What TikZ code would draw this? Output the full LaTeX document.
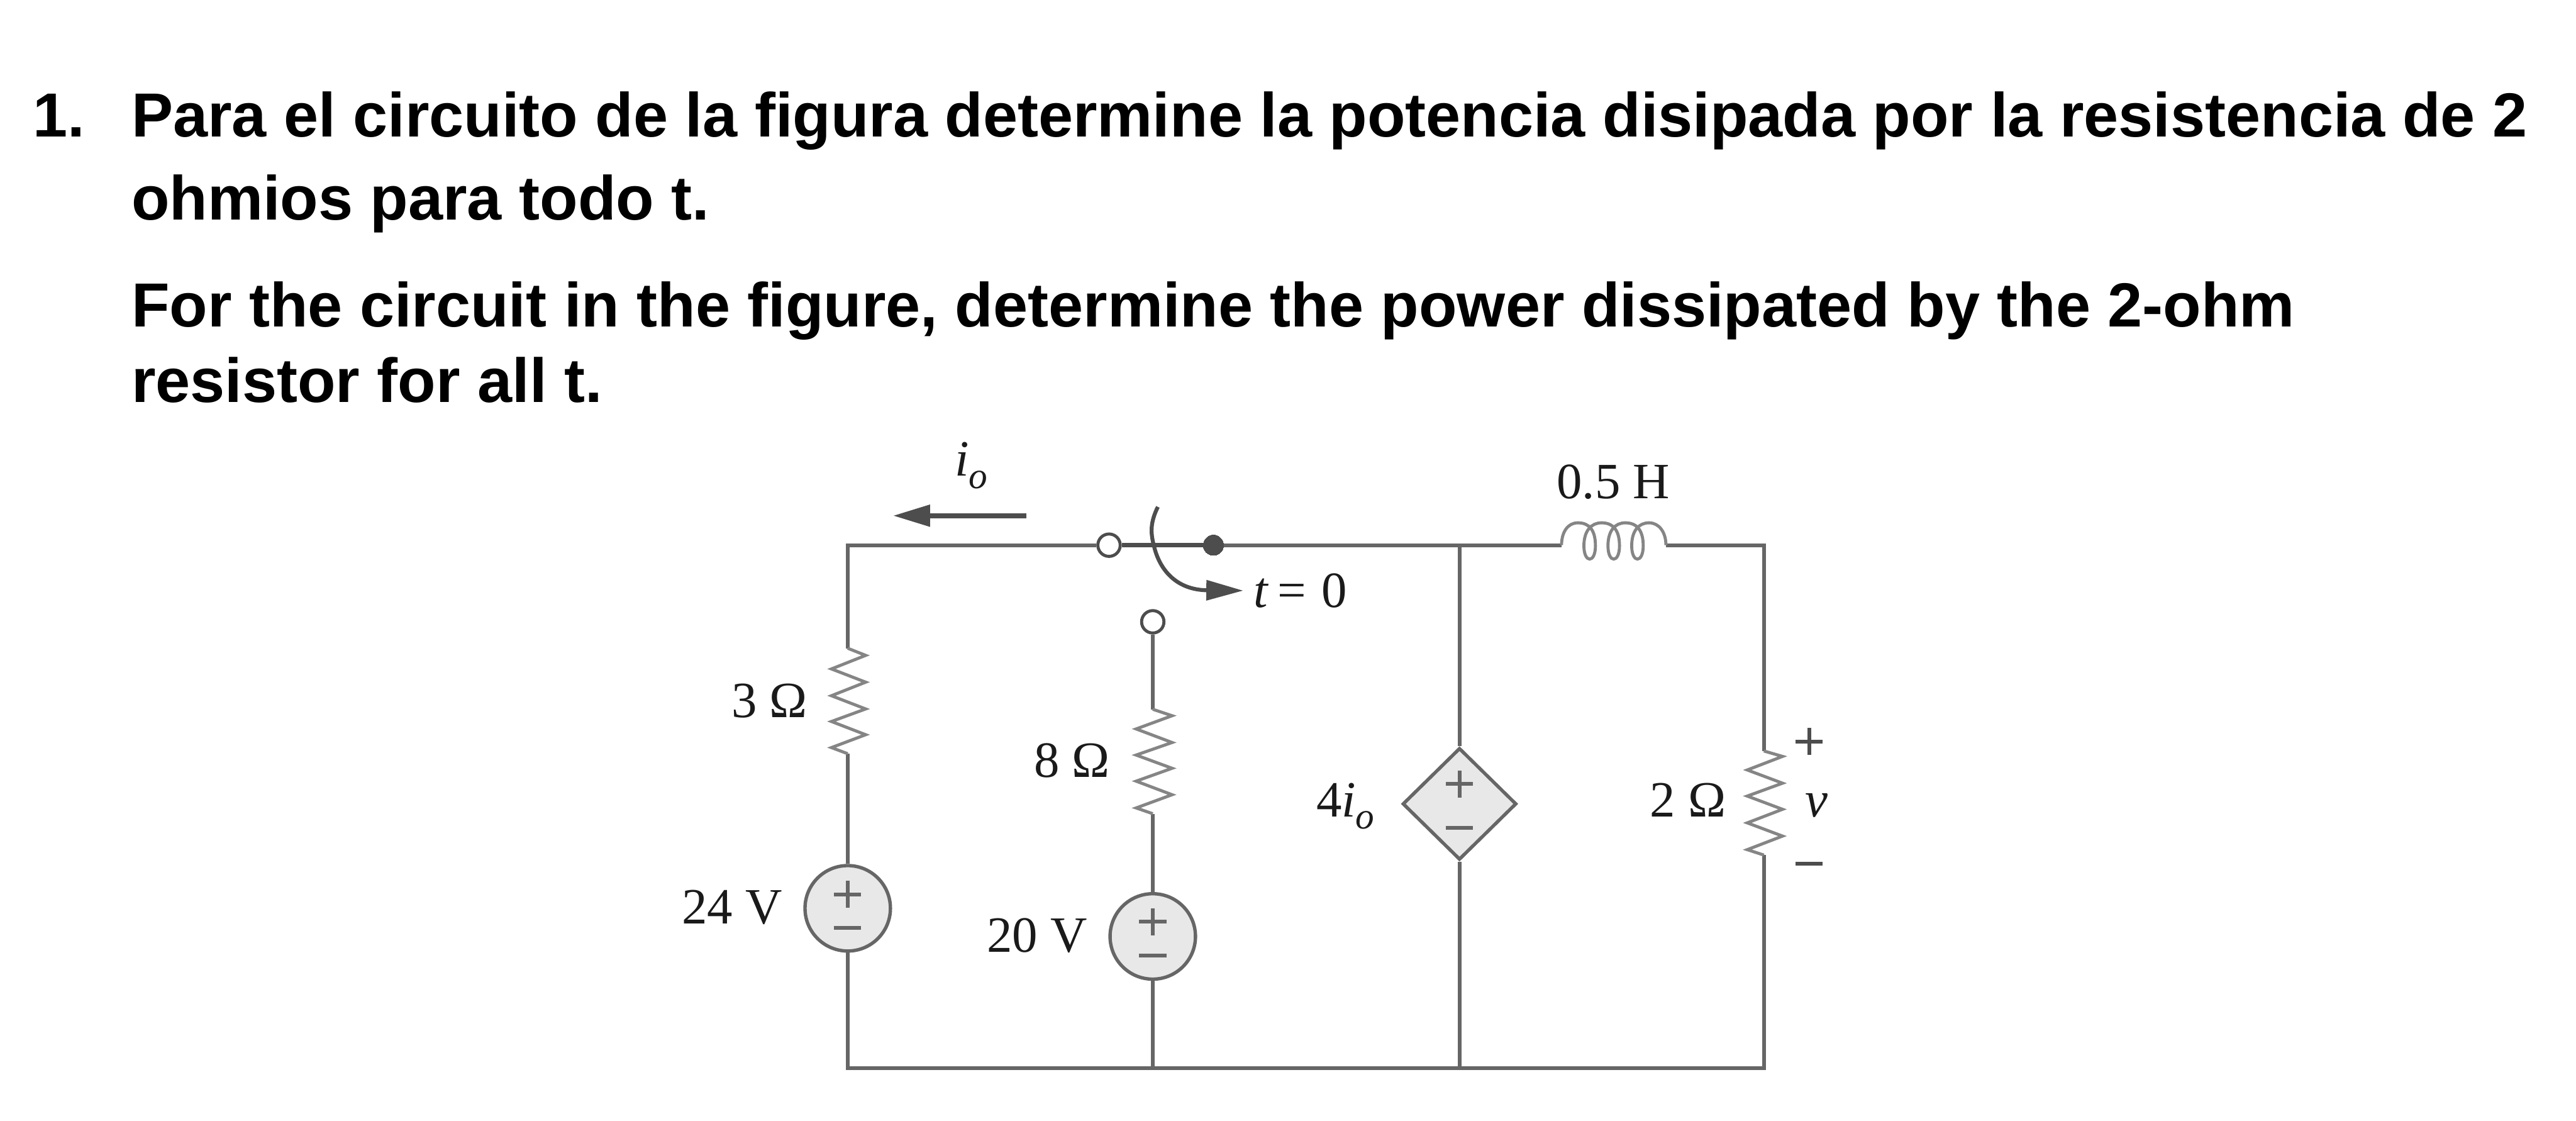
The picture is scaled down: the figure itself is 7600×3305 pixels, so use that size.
\documentclass[tikz,border=0pt]{standalone}
\usepackage{fontspec}
\setmainfont{Liberation Serif}
\newfontfamily\headfont{Liberation Sans}
\usetikzlibrary{shapes.geometric,arrows.meta}
\definecolor{wirec}{HTML}{666666}
\definecolor{darkc}{HTML}{4D4D4D}
\definecolor{fillc}{HTML}{E8E8E8}
\definecolor{inkc}{HTML}{1A1A1A}
\tikzset{
  x=0.1pt,y=-0.1pt,
  wire/.style={draw=wirec,line width=1.1pt,line join=miter},
  swire/.style={draw=darkc,line width=1.2pt},
  zigzag/.style={draw=wirec!80!white,line width=0.9pt,line join=miter},
  srccircle/.style={circle,draw=wirec,fill=fillc,line width=1pt,minimum size=25.2pt,inner sep=0pt},
  depdiamond/.style={diamond,draw=wirec,fill=fillc,line width=1pt,minimum width=33.6pt,minimum height=33pt,inner sep=0pt},
  openterm/.style={circle,draw=darkc,fill=white,line width=0.9pt,minimum size=6.6pt,inner sep=0pt},
  closedterm/.style={circle,draw=darkc,fill=darkc,line width=0pt,minimum size=6pt,inner sep=0pt},
  sign/.style={draw=wirec,line width=1.1pt},
  vsign/.style={draw=darkc,line width=1.1pt},
  head/.style={anchor=base west,inner sep=0pt,outer sep=0pt,font=\fontsize{18.38}{21}\headfont\bfseries,text=black},
  lab/.style={anchor=base west,inner sep=0pt,outer sep=0pt,font=\fontsize{15}{18}\selectfont,text=inkc},
  harrow/.style={draw=darkc,line width=1.4pt,-{Triangle[length=10.9pt,width=6.2pt]}},
  sarrow/.style={draw=darkc,line width=1.15pt,-{Triangle[length=10.9pt,width=5.8pt]}},
}
\newcommand{\plusminus}[4]{% style, x, yplus, yminus
  \draw[#1] (#2-40,#3) -- (#2+40,#3) (#2,#3-40) -- (#2,#3+40);
  \draw[#1] (#2-40,#4) -- (#2+40,#4);
}
\begin{document}
\begin{tikzpicture}
\useasboundingbox (0,0) rectangle (7600,3305);
% text
\node[head] (n1) at (97,404) {1.};
\node[head] (l1) at (388,404) {Para el circuito de la figura determine la potencia disipada por la resistencia de 2};
\node[head] (l2) at (388,648) {ohmios para todo t.};
\node[head] (l3) at (388,964) {For the circuit in the figure, determine the power dissipated by the 2-ohm};
\node[head] (l4) at (388,1186) {resistor for all t.};
% junctions
\coordinate (tl) at (2501,1608);
\coordinate (tm) at (4306,1608);
\coordinate (tr) at (5204,1608);
\coordinate (bl) at (2501,3150);
\coordinate (bn) at (3401,3150);
\coordinate (bm) at (4306,3150);
\coordinate (br) at (5204,3150);
\coordinate (r3t) at (2501,1912);
\coordinate (r3b) at (2501,2223);
\coordinate (r8t) at (3401,2092);
\coordinate (r8b) at (3401,2400);
\coordinate (r2t) at (5204,2215);
\coordinate (r2b) at (5204,2522);
\coordinate (lt) at (4607,1608);
\coordinate (lb) at (4915,1608);
% elements
\node[srccircle] (v24) at (2501,2679) {};
\node[srccircle] (v20) at (3401,2762) {};
\node[depdiamond] (dep) at (4306,2371) {};
\node[openterm] (oa) at (3272,1608) {};
\node[openterm] (ob) at (3401,1834) {};
\node[closedterm] (cc) at (3580,1608) {};
% wires
\draw[wire] (oa) -- (tl) -- (r3t);
\draw[wire] (r3b) -- (v24);
\draw[wire] (v24) -- (bl) -- (br) -- (r2b);
\draw[wire] (ob) -- (r8t);
\draw[wire] (r8b) -- (v20);
\draw[wire] (v20) -- (bn);
\draw[swire] (oa) -- (cc);
\draw[wire] (cc) -- (lt);
\draw[wire] (lb) -- (tr) -- (r2t);
\draw[wire] (tm) -- (dep);
\draw[wire] (dep) -- (bm);
% resistors
\draw[zigzag] (r3t) -- (2554,1933) -- (2453,1973) -- (2554,2012) -- (2453,2052) -- (2554,2091) -- (2453,2128) -- (2554,2167) -- (2453,2205) -- (r3b);
\draw[zigzag] (r8t) -- (3458,2111) -- (3352,2150) -- (3458,2190) -- (3352,2227) -- (3458,2266) -- (3352,2304) -- (3458,2344) -- (3352,2383) -- (r8b);
\draw[zigzag] (r2t) -- (5259,2231) -- (5155,2271) -- (5259,2310) -- (5155,2348) -- (5259,2387) -- (5155,2427) -- (5259,2466) -- (5155,2506) -- (r2b);
% inductor
\draw[zigzag] (lt) .. controls (4607,1570) and (4625,1542) .. (4655,1542)
  .. controls (4690,1542) and (4707,1565) .. (4707,1610)
  .. controls (4707,1662) and (4673,1662) .. (4673,1610)
  .. controls (4673,1565) and (4695,1542) .. (4725,1542)
  .. controls (4760,1542) and (4778,1565) .. (4778,1610)
  .. controls (4778,1662) and (4744,1662) .. (4744,1610)
  .. controls (4744,1565) and (4765,1542) .. (4795,1542)
  .. controls (4830,1542) and (4848,1565) .. (4848,1610)
  .. controls (4848,1662) and (4814,1662) .. (4814,1610)
  .. controls (4814,1565) and (4835,1542) .. (4865,1542)
  .. controls (4895,1542) and (4915,1570) .. (lb);
% source signs
\plusminus{sign}{2501}{2638}{2737}
\plusminus{sign}{3401}{2719}{2819}
\plusminus{sign}{4306}{2312}{2442}
\plusminus{vsign}{5338}{2187}{2548}
% switch
\coordinate (arca) at (3416,1495);
\coordinate (arcm) at (3404,1608);
\coordinate (arcb) at (3668,1742);
\draw[sarrow] (arca) .. controls (3394,1540) and (3394,1570) .. (arcm) .. controls (3420,1680) and (3470,1740) .. (arcb);
\coordinate (ia) at (3028,1521);
\coordinate (ib) at (2635,1521);
\draw[harrow] (ia) -- (ib);
% labels
\node[lab] (li) at (2818,1404) {\itshape i\kern-0.2pt\raisebox{-3.6pt}{\fontsize{11}{12}\selectfont o}};
\node[lab] (lt0) at (3698,1791) {\itshape t\upshape\kern3pt=\kern4.5pt0};
\node[lab] (l3o) at (2158,2117) {3 Ω};
\node[lab] (l24) at (2012,2725) {24 V};
\node[lab] (l8o) at (3051,2292) {8 Ω};
\node[lab] (l20) at (2912,2808) {20 V};
\node[lab] (l05) at (4593,1470) {0.5 H};
\node[lab] (l4i) at (3884,2409) {4\itshape i\kern-0.2pt\raisebox{-3.6pt}{\fontsize{11}{12}\selectfont o}};
\node[lab] (l2o) at (4868,2409) {2 Ω};
\node[lab] (lv) at (5326,2409) {\itshape v};
\end{tikzpicture}
\end{document}
